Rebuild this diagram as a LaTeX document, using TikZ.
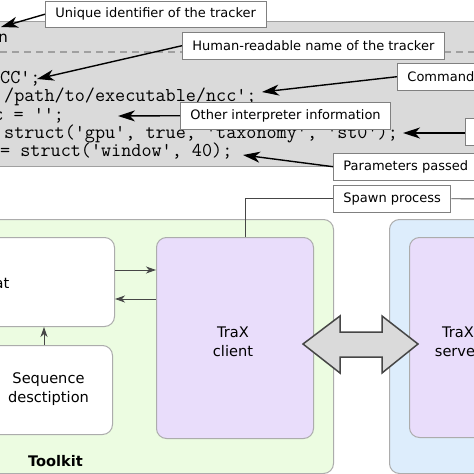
\documentclass[tikz,border=0pt]{standalone}
\usepackage{fontspec}
\setmainfont{DejaVu Sans}
\usetikzlibrary{arrows.meta}
\definecolor{codebg}{RGB}{218,218,218}
\definecolor{codeline}{RGB}{160,160,160}
\definecolor{tkgreen}{RGB}{236,252,225}
\definecolor{tkblue}{RGB}{221,237,252}
\definecolor{purp}{RGB}{233,221,251}
\definecolor{panelline}{RGB}{172,172,172}
\definecolor{lblline}{RGB}{128,128,128}
\definecolor{darkline}{RGB}{70,70,70}
\definecolor{arrowfill}{RGB}{218,218,218}
\tikzset{
  lbl/.style={draw=lblline, fill=white, line width=0.9pt, anchor=north west,
    inner xsep=10pt, inner ysep=0pt, minimum height=26.5pt,
    font=\fontsize{13}{15}\selectfont},
  code/.style={anchor=base west, inner sep=0pt, font=\ttfamily\fontsize{19.6}{22}\selectfont},
  larrow/.style={-{Stealth[length=17pt,width=11pt,inset=5pt]}, line width=1.4pt, black},
  sarrow/.style={-{Stealth[length=10pt,width=7pt,inset=3pt]}, line width=0.9pt, darkline},
  panel/.style={draw=panelline, line width=1pt, rounded corners=10pt, anchor=north west, inner sep=0pt},
  boxtext/.style={align=center, font=\fontsize{14.6}{18.5}\selectfont},
}
\newcommand{\q}{\textquotesingle}
\begin{document}
\begin{tikzpicture}[x=1pt,y=-1pt]
\useasboundingbox (0,0) rectangle (474,474);
\fill[white] (0,0) rectangle (474,474);

% code box
\draw[codeline, fill=codebg, line width=1pt] (-10,21) rectangle (490,166);
\draw[codeline, line width=1.3pt, dash pattern=on 7pt off 5pt] (0,52) -- (474,52);
\node[anchor=base east, inner sep=0pt, font=\fontsize{15}{17}\selectfont] (hdr) at (8,42) {n};
\node[code] (c1) at (0,83) {CC\q;};
\node[code] (c2) at (4,101) {/path/to/executable/ncc\q;};
\node[code] (c3) at (-6.8,120) {c = \q\q;};
\node[code] (c4) at (4,138) {struct(\q gpu\q, true, \q taxonomy\q, \q st0\q);};
\node[code] (c5) at (0,156) {= struct(\q window\q, 40);};

% labels
\node[lbl] (uid) at (45,0.5) {Unique identifier of the tracker};
\node[lbl] (hname) at (182,32) {Human-readable name of the tracker};
\node[lbl, text width=100pt, align=left] (cmd) at (397,63) {Command};
\node[lbl] (other) at (180,102) {Other interpreter information};
\node[lbl, minimum width=40pt] (rbox) at (465,118) {};
\node[lbl, text width=150pt, align=left] (params) at (333,153) {Parameters passed};

\coordinate (tUid) at (1,27);
\coordinate (tName) at (37,79);
\coordinate (tCmd) at (262,92);
\coordinate (tOther) at (118,116);
\coordinate (tR) at (403,133);
\coordinate (tPar) at (243,155);
\draw[larrow] (uid.west) -- (tUid);
\draw[larrow] (hname.west) -- (tName);
\draw[larrow] (cmd.west) -- (tCmd);
\draw[larrow] (other.west) -- (tOther);
\draw[larrow] (rbox.west |- 0,133) -- (tR);
\draw[larrow] (params.west) -- (tPar);

% lower panels
\node[panel, fill=tkgreen, minimum width=353pt, minimum height=254pt] (toolkit) at (-20,219) {};
\node[panel, fill=tkblue, minimum width=110pt, minimum height=254pt] (srvside) at (389,219) {};
\node[panel, fill=purp, minimum width=157pt, minimum height=201pt] (client) at (156,237) {};
\node[panel, fill=purp, minimum width=90pt, minimum height=200pt] (server) at (409,237) {};
\node[panel, fill=white, minimum width=134pt, minimum height=89pt] (fmt) at (-20,237) {};
\node[panel, fill=white, minimum width=132pt, minimum height=89pt] (seq) at (-20,345) {};

\node[boxtext, anchor=base east, inner sep=0pt] (fmttext) at (9.5,288) {at};
\node[boxtext] (clienttext) at (233,342) {TraX\\client};
\node[boxtext] (servertext) at (458,342) {TraX\\server};
\node[boxtext] (seqtext) at (48.5,389) {Sequence\\desctiption};
\node[font=\bfseries\fontsize{14.6}{17}\selectfont] (tklabel) at (55.5,461) {Toolkit};

\draw[sarrow] (fmt.east |- 0,270) -- (client.west |- 0,270);
\draw[sarrow] (client.west |- 0,299) -- (fmt.east |- 0,299);
\draw[sarrow] (seq.north -| 44,0) -- (fmt.south -| 44,0);

% spawn
\node[lbl] (spawn) at (333,185) {Spawn process};
\coordinate (spawnend) at (480,199);
\draw[darkline, line width=0.9pt] (client.north -| 245,0) |- (spawn.west);
\draw[darkline, line width=0.9pt] (spawn.east) -- (spawnend);

% big double arrow
\draw[darkline, fill=arrowfill, line width=1.5pt, line join=miter]
  (303,344) -- (340,316) -- (340,332) -- (382,332) -- (382,316) -- (418,344)
  -- (382,373) -- (382,357) -- (340,357) -- (340,373) -- cycle;
\end{tikzpicture}
\end{document}
